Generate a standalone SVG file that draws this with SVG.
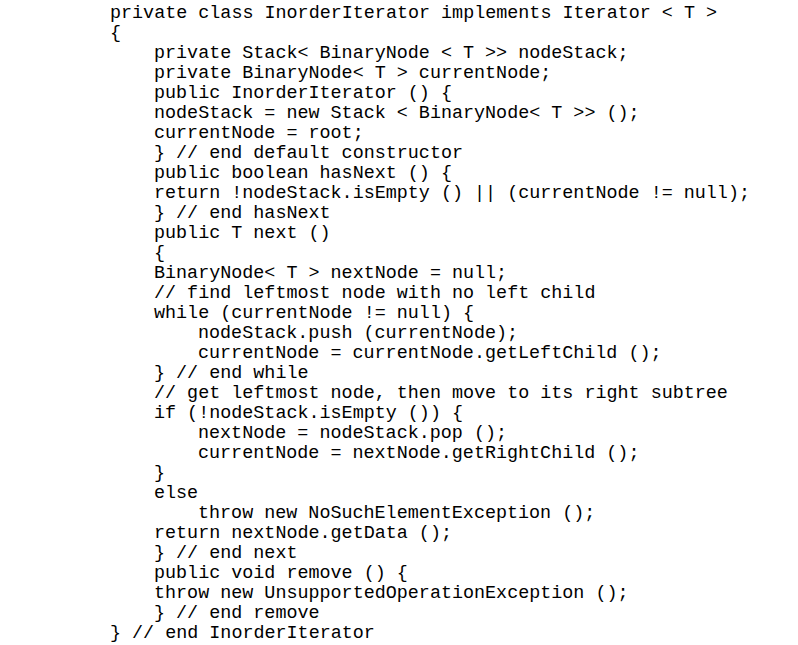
<svg xmlns="http://www.w3.org/2000/svg" width="798" height="645" viewBox="0 0 798 645">
<style>text{font-family:"Liberation Mono","Courier New",monospace;font-size:18.4px;fill:#000;white-space:pre}</style>
<rect width="798" height="645" fill="#fff"/>
<g id="code">
<text x="110" y="18">private class InorderIterator implements Iterator &lt; T &gt;</text>
<text x="110" y="38">{</text>
<text x="154" y="58">private Stack&lt; BinaryNode &lt; T &gt;&gt; nodeStack;</text>
<text x="154" y="78">private BinaryNode&lt; T &gt; currentNode;</text>
<text x="154" y="98">public InorderIterator () {</text>
<text x="154" y="118">nodeStack = new Stack &lt; BinaryNode&lt; T &gt;&gt; ();</text>
<text x="154" y="138">currentNode = root;</text>
<text x="154" y="158">} // end default constructor</text>
<text x="154" y="178">public boolean hasNext () {</text>
<text x="154" y="198">return !nodeStack.isEmpty () || (currentNode != null);</text>
<text x="154" y="218">} // end hasNext</text>
<text x="154" y="238">public T next ()</text>
<text x="154" y="258">{</text>
<text x="154" y="278">BinaryNode&lt; T &gt; nextNode = null;</text>
<text x="154" y="298">// find leftmost node with no left child</text>
<text x="154" y="318">while (currentNode != null) {</text>
<text x="198" y="338">nodeStack.push (currentNode);</text>
<text x="198" y="358">currentNode = currentNode.getLeftChild ();</text>
<text x="154" y="378">} // end while</text>
<text x="154" y="398">// get leftmost node, then move to its right subtree</text>
<text x="154" y="418">if (!nodeStack.isEmpty ()) {</text>
<text x="198" y="438">nextNode = nodeStack.pop ();</text>
<text x="198" y="458">currentNode = nextNode.getRightChild ();</text>
<text x="154" y="478">}</text>
<text x="154" y="498">else</text>
<text x="198" y="518">throw new NoSuchElementException ();</text>
<text x="154" y="538">return nextNode.getData ();</text>
<text x="154" y="558">} // end next</text>
<text x="154" y="578">public void remove () {</text>
<text x="154" y="598">throw new UnsupportedOperationException ();</text>
<text x="154" y="618">} // end remove</text>
<text x="110" y="638">} // end InorderIterator</text>
</g>
</svg>
